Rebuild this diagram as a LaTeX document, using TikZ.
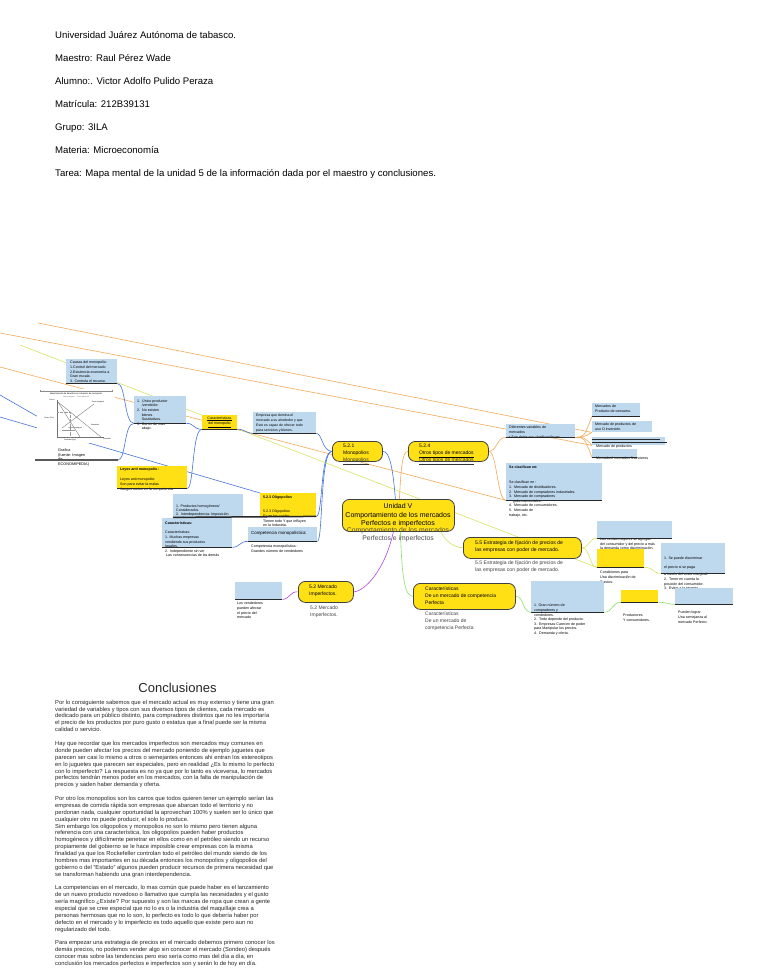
\documentclass[tikz,border=0pt]{standalone}
\usepackage{fontspec}
\setmainfont{Liberation Sans}
\usetikzlibrary{calc}
\definecolor{myyel}{RGB}{255,224,20}
\definecolor{myblue}{RGB}{190,216,238}
\definecolor{myor}{RGB}{244,170,90}
\definecolor{myyg}{RGB}{214,230,100}
\definecolor{mybl}{RGB}{70,115,220}
\definecolor{mygr}{RGB}{140,225,110}
\definecolor{mypu}{RGB}{175,70,225}
\definecolor{barc}{RGB}{40,40,40}
\pgfdeclarelayer{bg}
\pgfsetlayers{bg,main}
\begin{document}
\begin{tikzpicture}[x=1pt,y=-1pt,
 hdr/.style={anchor=base west,inner sep=0,font=\fontsize{9.6}{11}\selectfont},
 bb/.style={fill=myblue,inner sep=0,anchor=north west},
 ysq/.style={fill=myyel,inner sep=0,anchor=north west},
 ybx/.style={fill=myyel,draw=black!75,line width=0.8pt,rounded corners=7pt,inner sep=0,anchor=north west},
 tx/.style={anchor=north west,inner sep=0,align=left,font=\fontsize{3.6}{4.6}\selectfont},
 gtx/.style={anchor=north west,inner sep=0,align=left,font=\fontsize{5}{7.2}\selectfont,text=black!75},
 ytx/.style={anchor=north west,inner sep=0,align=left,font=\fontsize{5}{7.2}\selectfont},
 bar/.style={draw=barc,line width=1.5pt},
 lb/.style={draw=mybl,line width=0.6pt},
 lo/.style={draw=myor,line width=0.6pt},
 lg/.style={draw=mygr,line width=0.6pt},
 lyg/.style={draw=myyg,line width=0.6pt},
 lp/.style={draw=mypu,line width=0.6pt},
 para/.style={anchor=north west,inner sep=0,align=left,font=\fontsize{5.8}{6.88}\selectfont,text=black!85}]
\useasboundingbox (0,0) rectangle (768,972);

% ---------- header ----------
\node[hdr] (h1) at (55,38.5) {Universidad Juárez Autónoma de tabasco.};
\node[hdr] (h2) at (55,61.5) {Maestro: Raul Pérez Wade};
\node[hdr] (h3) at (55,84.5) {Alumno:. Victor Adolfo Pulido Peraza};
\node[hdr] (h4) at (55,107.5) {Matrícula: 212B39131};
\node[hdr] (h5) at (55,130.5) {Grupo: 3ILA};
\node[hdr] (h6) at (55,153.5) {Materia: Microeconomía};
\node[hdr] (h7) at (55,176.5) {Tarea: Mapa mental de la unidad 5 de la información dada por el maestro y conclusiones.};

% ---------- free ends of long lines ----------
\coordinate (o1) at (38,323);
\coordinate (o2) at (0,333);
\coordinate (o3) at (0,367);
\coordinate (y1) at (20,345);
\coordinate (b1) at (0,395);
\coordinate (b2) at (0,417);

% ---------- graph picture ----------
\node[fill=white,inner sep=0,anchor=north west,minimum width=78,minimum height=54] (graf) at (37,389) {};
\draw[black!45,line width=0.3pt] (40,391) -- (112,391) (40,390) -- (40,392) (112,390) -- (112,392);
\node[inner sep=0,font=\fontsize{2.2}{2.6}\selectfont] (graft) at (76,394) {Maximización de beneficio en situación de monopolio};
\node[inner sep=0,font=\fontsize{1.8}{2.2}\selectfont,text=black!60] (grafs) at (76,397) {Nueva imagen \quad Texto adicional};
\draw[black!55,line width=0.35pt] (57,400) -- (57,437) -- (104,437);
\draw[black!55,line width=0.35pt] (58,402) -- (101,437);
\draw[black!55,line width=0.35pt] (58,402) -- (80,437);
\draw[black!55,line width=0.35pt] (62,428) -- (94,404);
\draw[black!40,line width=0.3pt,densely dotted] (57,412) -- (70,412) -- (70,437);
\draw[black!40,line width=0.3pt] (62,430) -- (75,430);
\node[inner sep=0,font=\fontsize{1.8}{2}\selectfont] (gl1) at (52,400) {Precio};
\node[inner sep=0,font=\fontsize{1.8}{2}\selectfont] (gl2) at (49,418) {Precio (Pm)};
\node[inner sep=0,font=\fontsize{1.8}{2}\selectfont] (gl3) at (98,402) {Coste marginal};
\node[inner sep=0,font=\fontsize{1.8}{2}\selectfont] (gl4) at (95,425) {Demanda};
\node[inner sep=0,font=\fontsize{1.8}{2}\selectfont] (gl5) at (107,439) {Cantidad};
\node[inner sep=0,font=\fontsize{1.8}{2}\selectfont] (gl6) at (70,440) {Cantidad (Qm)};
\node[inner sep=0,font=\fontsize{1.8}{2}\selectfont] (gl7) at (75,428) {Ingreso marginal};
\node[tx,font=\fontsize{3.8}{4.4}\selectfont] (grafc) at (58,449) {Grafica\\(fuente: Imagen\\de\\ECONOMIPEDIA)};
\draw[bar,draw=black!65] (35,460) -- (118,460);

% ---------- blue boxes (left) ----------
\node[bb,minimum width=51,minimum height=24] (causas) at (66,359) {};
\node[tx] (causast) at (70,361) {Causas del monopolio:\\1.Control del mercado\\2.Existencia economía a\\Gran escala.\\3. Controla el recurso.};
\node[bb,minimum width=52,minimum height=27] (unico) at (134,396) {};
\node[tx] (unicot) at (137,399) {1.\ \ Único productor\\\quad\ /vendedor.\\2.\ \ No existen\\\quad\ bienes\\\quad\ Sustitutivos.\\3.\ \ Barrer de mas\\\quad\ abajo.};
\node[ysq,minimum width=35,minimum height=14] (charmono) at (202,415) {};
\node[inner sep=0,align=center,font=\fontsize{3.6}{4.2}\selectfont] (charmonot) at (219.5,422) {\underline{Características}\\\underline{del monopolio}};
\node[bb,minimum width=63,minimum height=21] (empresa) at (253,412) {};
\node[tx,font=\fontsize{3.5}{4.8}\selectfont] (empresat) at (256,414) {Empresa que domina el\\mercado a su alrededor y que\\Este es capaz de ofrecer todo\\para servicios y bienes.};
\node[ysq,minimum width=70,minimum height=22] (leyes) at (117,466) {};
\node[tx,font=\bfseries\fontsize{3.6}{4.6}\selectfont] (leyesh) at (120,468) {Leyes anti monopolio :};
\node[tx] (leyest) at (120,478) {Leyes anti monopolio:\\Son para evitar la malas\\Juegos sucios en la competencia};
\node[ysq,minimum width=56,minimum height=23] (olig) at (260,493) {};
\node[tx,font=\bfseries\fontsize{3.6}{4.6}\selectfont] (oligh) at (263,496) {5.2.3 Oligopolios};
\node[tx] (oligt) at (263,510) {5.2.3 Oligopolios\\Es en los cuales\\Tienen todo Y que influyen\\en la Industria.};
\node[bb,minimum width=70,minimum height=23] (prodhom) at (173,494) {};
\node[tx,font=\fontsize{3.6}{4.1}\selectfont] (prodhomt) at (176,504.5) {1. Productos homogéneos/\\Considerados.\\2.\ \ Interdependencia: Imposición\\\quad a barreras de entrada.};
\node[bb,minimum width=70,minimum height=29] (caract) at (162,518) {};
\node[tx,font=\bfseries\fontsize{3.6}{4.6}\selectfont] (caracth) at (165,521.5) {Características:};
\node[tx] (caractt) at (165,531) {Características:\\1. Muchas empresas\\vendiendo sus productos\\Iguales.\\2.\ \ Independiente sin ver\\\ Las consecuencias de las demás};
\node[bb,minimum width=69,minimum height=14] (compmon) at (248,527) {};
\node[tx,font=\fontsize{4.4}{5}\selectfont] (compmont) at (251,531) {Competencia monopolística:};
\node[tx] (compmong) at (251,545) {Competencia monopolística :\\Grandes número de vendedores};

% ---------- blue boxes (right) ----------
\node[bb,minimum width=69,minimum height=13] (difvar) at (506,424) {};
\node[tx] (difvart) at (509,426) {Diferentes variables de\\mercados\\•\ Son datos sus clasificación en};
\node[bb,minimum width=48,minimum height=13] (mcons) at (592,403) {};
\node[tx] (mconst) at (595,405) {Mercados de\\Producto de consumo.};
\node[bb,minimum width=60,minimum height=11] (muso) at (592,421) {};
\node[tx] (musot) at (595,423) {Mercado de productos de\\uso O inversión.};
\node[bb,minimum width=73,minimum height=8] (mprod) at (592,437) {};
\node[tx] (mprodt) at (596,445) {Mercado de productos};
\node[bb,minimum width=45,minimum height=8] (mfin) at (592,449) {};
\node[tx] (mfint) at (596,457) {Mercados/ mercados financieros};
\node[bb,minimum width=96,minimum height=37] (seclas) at (506,463) {};
\node[tx,font=\bfseries\fontsize{3.6}{4.6}\selectfont] (seclash) at (509,466) {Se clasifican en:};
\node[tx] (seclast) at (509,481) {Se clasifican en :\\1.\ \ Mercado de distribuidores.\\2.\ \ Mercado de compradores industriales.\\3.\ \ Mercado de compradores\\\quad gubernamentales.\\4.\ \ Mercado de consumidores.\\5.\ \ Mercado de\\trabajo, etc.};
\node[bb,minimum width=75,minimum height=17] (bv55) at (597,521) {};
\node[tx] (bv55t) at (600,538) {Las ventas mayores se agregan\\del consumidor y del precio a más\\la demanda como discriminación.};
\node[ysq,minimum width=47,minimum height=18] (cond) at (597,549) {};
\node[tx] (condt) at (600,571) {Condiciones para\\Una discriminación de\\Precios:};
\node[bb,minimum width=64,minimum height=30] (bdisc) at (661,543) {};
\node[tx] (bdisct1) at (664,557) {1. Se puede discriminar};
\node[tx] (bdisct2) at (664,566) {el precio si se paga};
\node[tx] (bdisct3) at (664,573) {a través del costo marginal.\\2.\ \ Tener en cuenta la\\posición del consumidor.\\3.\ \ Evitar a la reventa.};
\node[bb,minimum width=73,minimum height=31] (bgran) at (531,581) {};
\node[tx] (bgrant) at (534,604) {1. Gran número de\\compradores y\\vendedores.\\2.\ \ Todo depende del producto.\\3.\ \ Empresas Carecen de poder\\para Manipular los precios.\\4.\ \ Demanda y oferta.};
\node[ysq,minimum width=37,minimum height=12] (prody) at (621,590) {};
\node[tx] (prodyt) at (623,614) {Productores\\Y consumidores.};
\node[bb,minimum width=58,minimum height=16] (blograr) at (675,588) {};
\node[tx] (blograrg) at (678,611) {Pueden lograr\\Una semejanza al\\mercado Perfecto.};
\node[bb,minimum width=47,minimum height=17] (bvend) at (235,582) {};
\node[tx] (bvendt) at (237,602) {Los vendedores\\pueden afectar\\el precio del\\mercado};

% ---------- bars ----------
\foreach \n in {causas,unico,charmono,empresa,leyes,caract,compmon,difvar,mcons,mfin,seclas,bv55,cond,bdisc,bgran,prody,blograr,bvend}
  \draw[bar] (\n.south west) -- (\n.south east);
\draw[bar] (prodhom.south west) -- (olig.south east);
\draw[bar,line width=1pt] ($(mprod.north west)+(0,2.5)$) -- ($(mprod.north east)+(-5,2.5)$);
\draw[bar,line width=1pt] ($(mprod.north west)+(0,5.5)$) -- ($(mprod.north east)+(2,5.5)$);

% ---------- main yellow nodes ----------
\node[ybx,minimum width=112,minimum height=32] (central) at (342,499) {};
\node[inner sep=0,align=center,font=\fontsize{7}{8.4}\selectfont] (centralt) at (398,515.5) {Unidad V\\Comportamiento de los mercados\\Perfectos e imperfectos};
\node[inner sep=0,align=center,anchor=north,font=\fontsize{6.8}{7.6}\selectfont,text=black!70] (centralg) at (398,527.5) {Comportamiento de los mercados\\Perfectos e imperfectos};

\node[ybx,minimum width=50,minimum height=20] (m521) at (332,441) {};
\node[ytx] (m521t) at (343,444) {5.2.1\\Monopolios};
\node[ytx,text=black!80] (m521g) at (343,457.5) {\underline{Monopolios}};

\node[ybx,minimum width=80,minimum height=20] (m524) at (408,441) {};
\node[ytx] (m524t) at (419,444) {5.2.4\\\underline{Otros tipos de mercados}};
\node[ytx,text=black!80] (m524g) at (419,457.5) {\underline{Otros tipos de mercados}};

\node[ybx,minimum width=118,minimum height=21] (m55) at (463,537) {};
\node[ytx,font=\fontsize{5.1}{7}\selectfont] (m55t) at (475,541) {5.5 Estrategia de fijación de precios de\\las empresas con poder de mercado.};
\node[gtx,font=\fontsize{5.1}{7}\selectfont] (m55g) at (475,561) {5.5 Estrategia de fijación de precios de\\las empresas con poder de mercado.};

\node[ybx,minimum width=102,minimum height=26] (mcp) at (413,583) {};
\node[ytx,font=\fontsize{5}{7}\selectfont] (mcpt) at (425,587) {Características\\De un mercado de competencia\\Perfecta};
\node[gtx,font=\fontsize{5}{7}\selectfont] (mcpg) at (425,612) {Características\\De un mercado de\\competencia Perfecta};

\node[ybx,minimum width=55,minimum height=21] (m52) at (298,581) {};
\node[ytx,font=\fontsize{5}{7}\selectfont] (m52t) at (309,585) {5.2 Mercado\\Imperfectos.};
\node[gtx,font=\fontsize{5}{7}\selectfont] (m52g) at (310,606) {5.2 Mercado\\Imperfectos.};

% ---------- conclusions ----------
\node[inner sep=0,anchor=base,font=\fontsize{13}{15}\selectfont,text=black!85] (conc) at (177.5,692) {Conclusiones};
\node[para] (p1) at (55,699.8) {Por lo consiguiente sabemos que el mercado actual es muy extenso y tiene una gran\\variedad de variables y tipos con sus diversos tipos de clientes, cada mercado es\\dedicado para un público distinto, para compradores distintos que no les importaría\\el precio de los productos por puro gusto o estatus que a final puede ser la misma\\calidad o servicio.};
\node[para] (p2) at (55,741.1) {Hay que recordar que los mercados imperfectos son mercados muy comunes en\\donde pueden afectar los precios del mercado poniendo de ejemplo juguetes que\\parecen ser casi lo mismo a otros o semejantes entonces ahí entran los estereotipos\\en lo juguetes que parecen ser especiales, pero en realidad ¿Es lo mismo lo perfecto\\con lo imperfecto? La respuesta es no ya que por lo tanto es viceversa, lo mercados\\perfectos tendrán menos poder en los mercados, con la falta de manipulación de\\precios y saden haber demanda y oferta.};
\node[para] (p3) at (55,796.1) {Por otro los monopolios son los carros que todos quieren tener un ejemplo serían las\\empresas de comida rápida son empresas que abarcan todo el territorio y no\\perdonan nada, cualquier oportunidad la aprovechan 100\% y suelen ser lo único que\\cualquier otro no puede producir, el solo lo produce.\\Sim embargo los oligopolios y monopolios no son lo mismo pero tienen alguna\\referencia con una característica, los oligopolios pueden haber productos\\homogéneos y difícilmente penetrar en ellos como en el petróleo siendo un recurso\\propiamente del gobierno se le hace imposible crear empresas con la misma\\finalidad ya que los Rockefeller controlan todo el petróleo del mundo siendo de los\\hombres mas importantes en su década entonces los monopolios y oligopolios del\\gobierno o del “Estado” algunos pueden producir recursos de primera necesidad que\\se transforman habiendo una gran interdependencia.};
\node[para] (p4) at (55,885.5) {La competencias en el mercado, lo mas común que puede haber es el lanzamiento\\de un nuevo producto novedoso o llamativo que cumpla las necesidades y el gusto\\sería magnífico ¿Existe? Por supuesto y son las marcas de ropa que crean a gente\\especial que se cree especial que no lo es o la industria del maquillaje crea a\\personas hermosas que no lo son, lo perfecto es todo lo que debería haber por\\defecto en el mercado y lo imperfecto es todo aquello que existe pero aun no\\regularizado del todo.};
\node[para] (p5) at (55,940.5) {Para empezar una estrategia de precios en el mercado debemos primero conocer los\\demás precios, no podemos vender algo sin conocer el mercado (Sondeo) después\\conocer mas sobre las tendencias pero eso sería como mas del día a día, en\\conclusión los mercados perfectos e imperfectos son y serán lo de hoy en día.};

% ---------- connectors ----------
\begin{pgfonlayer}{bg}
\fill[white] (0,0) rectangle (768,972);
% long lines
\draw[lo] (o1) -- (muso.south west);
\draw[lo] (o2) -- (mprod.south west);
\draw[lo] (o3) -- (seclas.south west);
\draw[lyg] (y1) -- (cond.south west);
\draw[lb] (b1) -- (graf.west);
\draw[lb] (b2) -- (olig.north west);
% blue branch
\draw[lb] ($(central.north)+(-3,0)$) .. controls (393,470) and (390,451) .. (m521.east);
\draw[lb] (m521.west) .. controls (322,451) and (322,433) .. (empresa.south east);
\draw[lb] (m521.west) .. controls (320,451) and (323,516) .. (olig.south east);
\draw[lb] (m521.west) .. controls (320,451) and (323,541) .. (compmon.south east);
\draw[lb] (empresa.south west) .. controls (245,433) and (245,429) .. (charmono.south east);
\draw[lb] (charmono.south west) .. controls (193,429) and (194,423) .. (unico.south east);
\draw[lb] (charmono.south west) .. controls (192,429) and (194,488) .. (leyes.south east);
\draw[lb] (unico.south west) .. controls (124,423) and (126,384) .. (causas.south east);
\draw[lb] (unico.south west) .. controls (124,423) and (126,460) .. (118,460);
\draw[lb] (compmon.south west) .. controls (240,541) and (240,547) .. (caract.south east);
% orange branch
\draw[lo] ($(central.north)+(1,0)$) .. controls (401,470) and (402,451) .. (m524.west);
\draw[lo] (m524.east) .. controls (497,451) and (497,437) .. (difvar.south west);
\draw[lo] (m524.east) .. controls (497,451) and (497,500) .. (seclas.south west);
\foreach \n in {mcons,muso,mprod,mfin}
  \draw[lo] (difvar.south east) .. controls (584,437) and (584,437) .. (\n.south west);
% green branch
\draw[lg] ($(central.south)+(2,0)$) .. controls (402,580) and (405,596) .. (mcp.west);
\draw[lg] (mcp.east) .. controls (524,596) and (522,612) .. (bgran.south west);
\draw[lg] (bgran.south east) .. controls (613,612) and (612,602) .. (prody.south west);
\draw[lg] (prody.south east) .. controls (667,602) and (666,604) .. (blograr.south west);
% yellow-green branch
\draw[lyg] ($(central.south east)+(-14,0)$) .. controls (445,540) and (452,547) .. (m55.west);
\draw[lyg] (m55.east) .. controls (590,547) and (589,538) .. (bv55.south west);
\draw[lyg] (m55.east) .. controls (590,547) and (589,567) .. (cond.south west);
\draw[lyg] (cond.south east) .. controls (653,567) and (652,573) .. (bdisc.south west);
% purple branch
\draw[lp] ($(central.south)+(-5,0)$) .. controls (385,570) and (365,591) .. (m52.east);
\draw[lp] (m52.west) .. controls (290,591) and (290,599) .. (bvend.south east);
\end{pgfonlayer}
\end{tikzpicture}
\end{document}
